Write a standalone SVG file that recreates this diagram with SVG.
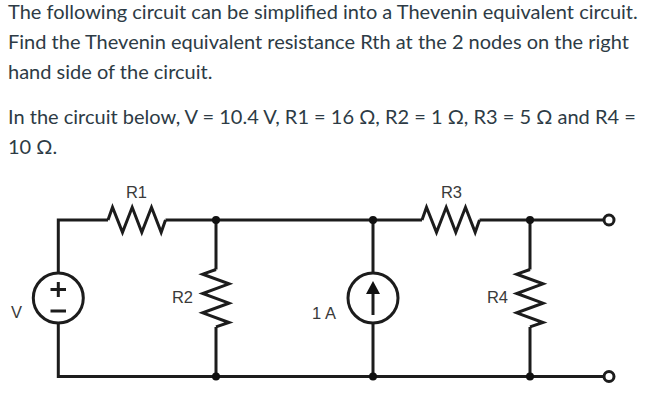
<svg xmlns="http://www.w3.org/2000/svg" width="652" height="403" viewBox="0 0 652 403">
<style>
.q{font-family:Lato,"Liberation Sans",sans-serif;font-size:20px;fill:#2d3b45}
.l{font-family:"Liberation Sans",Arial,sans-serif;font-size:16.500px;fill:#3a3a3a}
.w{fill:none;stroke:#1c1c1c;stroke-width:3;stroke-linejoin:miter}
.d{fill:#111}
.o{fill:#fff;stroke:#1c1c1c;stroke-width:3}
</style>
<defs>
<path id="hr" class="w" d="M0 0L4.500-12.700 14.500 12.300 24.200-12.700 33.800 12.300 43.500-12.700 53.200 12.300 57.500 0"/>
<path id="vr" class="w" d="M0 0L-13.300 4.700 13 14.300-13.300 24 13 33.700-13.300 43.300 13 53 0 57.300"/>
</defs>
<rect width="652" height="403" fill="#fff"/>
<g id="question">
<text class="q" x="8" y="19">The following circuit can be simplified into a Thevenin equivalent circuit.</text>
<text class="q" x="8" y="49">Find the Thevenin equivalent resistance Rth at the 2 nodes on the right</text>
<text class="q" x="8" y="79">hand side of the circuit.</text>
<text class="q" x="8" y="124">In the circuit below, V = 10.4 V, R1 = 16 Ω, R2 = 1 Ω, R3 = 5 Ω and R4 =</text>
<text class="q" x="8" y="154">10 Ω.</text>
</g>
<g id="connectors">
<path class="w" d="M58.300 272.500V220H108M165.500 220H422M479.500 220H604M216 220V269.500M216 327V376.500M373 220V272.500M373 323.500V376.500M530 220V269.500M530 327V376.500M58.300 323.500V376.500H604"/>
</g>
<g id="R1"><use href="#hr" x="108" y="220"/><text class="l" x="136.500" y="198" text-anchor="middle">R1</text></g>
<g id="R2"><use href="#vr" x="216" y="269.500"/><text class="l" x="182.500" y="303" text-anchor="middle">R2</text></g>
<g id="R3"><use href="#hr" x="422" y="220"/><text class="l" x="451.500" y="197.500" text-anchor="middle">R3</text></g>
<g id="R4"><use href="#vr" x="530" y="269.500"/><text class="l" x="497.500" y="303" text-anchor="middle">R4</text></g>
<g id="V">
<circle class="w" cx="58.300" cy="298" r="25"/>
<path class="w" d="M50.500 289.500H66M58.300 282V297M50.500 311H66"/>
<text class="l" x="16.500" y="318" text-anchor="middle">V</text>
</g>
<g id="I1">
<circle class="w" cx="373" cy="298" r="25"/>
<path class="w" d="M373 315V285"/>
<path class="d" d="M373 281L380 294H366Z"/>
<text class="l" x="324" y="319" text-anchor="middle">1 A</text>
</g>
<g id="nodes" class="d">
<circle cx="216" cy="220" r="4"/><circle cx="373" cy="220" r="4"/><circle cx="530" cy="220" r="4"/>
<circle cx="216" cy="376.500" r="4"/><circle cx="373" cy="376.500" r="4"/><circle cx="530" cy="376.500" r="4"/>
</g>
<g id="T1"><circle class="o" cx="609" cy="220" r="5"/></g>
<g id="T2"><circle class="o" cx="609" cy="376.500" r="5"/></g>
</svg>
